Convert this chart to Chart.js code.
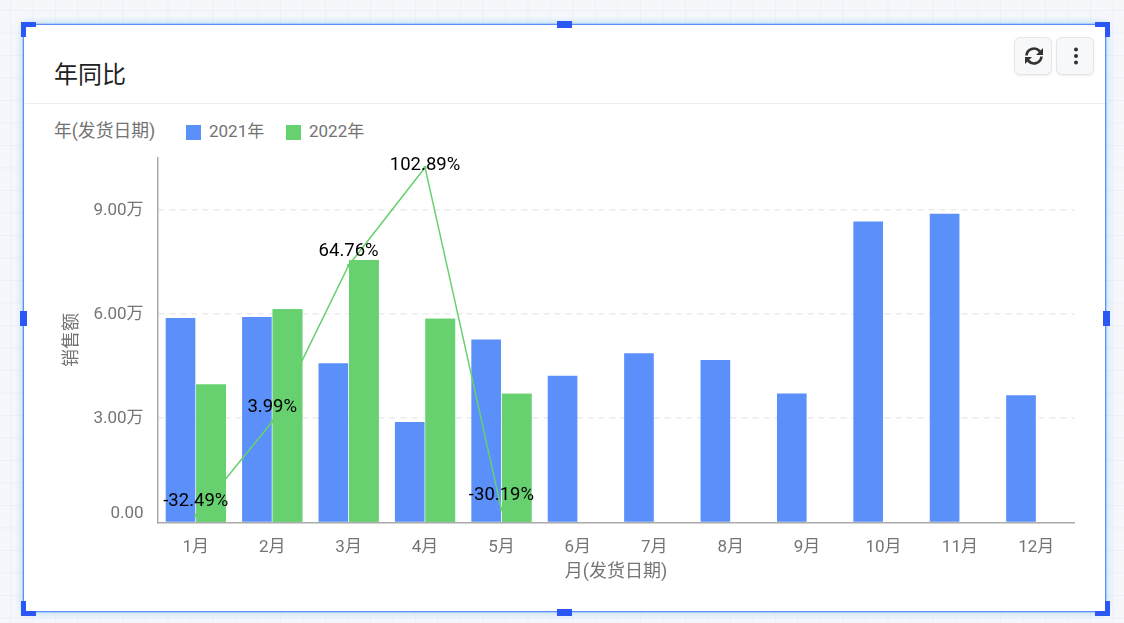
<!DOCTYPE html>
<html lang="zh">
<head>
<meta charset="utf-8">
<title>年同比</title>
<script src="https://cdn.jsdelivr.net/npm/chart.js@4/dist/chart.umd.min.js"></script>
<style>
  html, body { margin: 0; height: 100%; overflow: hidden; }
  body {
    width: 1124px; height: 623px; position: relative;
    font-family: Roboto, "Noto Sans CJK SC", sans-serif;
    background-color: #f6f7fb;
    background-image:
      linear-gradient(#eef0f5 1px, transparent 1px),
      linear-gradient(90deg, #eef0f5 1px, transparent 1px);
    background-size: 22.5px 22.5px;
    background-position: 10px 10px;
  }
  .card {
    position: absolute; left: 23px; top: 24px; width: 1081px; height: 586px;
    background: #fff; border: 1px solid #5b8ff9;
    box-shadow: 0 0 0 .5px #8fb4fa, 0 0 8px rgba(90, 190, 240, .55);
  }
  .title { position: absolute; left: 54px; top: 58px; font-size: 24px; line-height: 34px; color: #222; }
  .sep { position: absolute; left: 25px; top: 103px; width: 1080px; height: 1px; background: #ececec; }
  .legend { position: absolute; top: 119px; left: 54px; height: 24px; line-height: 24px; font-size: 17px; color: #737373; }
  .legend span { position: absolute; white-space: nowrap; top: 0; }
  .legend i { position: absolute; top: 6px; width: 15px; height: 15px; }
  .btn {
    position: absolute; top: 37px; width: 38px; height: 38px; box-sizing: border-box;
    background: #f7f8fa; border: 1px solid #e6e6e6; border-radius: 6px;
    box-shadow: 0 1px 2px rgba(0, 0, 0, .08);
  }
  .btn svg { position: absolute; left: 8.5px; top: 8px; }
  .h { position: absolute; background: #2b57f5; }
  canvas { position: absolute; left: 0; top: 0; }
</style>
</head>
<body>
<div class="card"></div>
<div class="title">年同比</div>
<div class="sep"></div>
<div class="btn" style="left:1014px">
  <svg width="20" height="20" viewBox="0 0 20 20" fill="none" stroke="#333" stroke-width="2.6">
    <path d="M2.5 9.5A7.5 7.5 0 0 1 15.5 5L17 7.5"/>
    <path d="M17.5 10.5A7.5 7.5 0 0 1 4.5 15L3 12.5"/>
    <path d="M19 2V9H12z" fill="#333" stroke="none"/>
    <path d="M1 18V11H8z" fill="#333" stroke="none"/>
  </svg>
</div>
<div class="btn" style="left:1056px">
  <svg width="20" height="20" viewBox="0 0 20 20" fill="#333">
    <circle cx="10" cy="3.5" r="2"/><circle cx="10" cy="10" r="2"/><circle cx="10" cy="16.5" r="2"/>
  </svg>
</div>
<div class="legend">
  <span style="left:0;font-size:17.8px">年(发货日期)</span>
  <i style="left:132px;background:#5b8ff9"></i><span style="left:155px">2021年</span>
  <i style="left:232px;background:#67d06f"></i><span style="left:255px">2022年</span>
</div>
<!-- selection handles -->
<div class="h" style="left:21px;top:22px;width:15px;height:5px"></div>
<div class="h" style="left:21px;top:22px;width:5px;height:15px"></div>
<div class="h" style="left:1095px;top:22px;width:15px;height:5px"></div>
<div class="h" style="left:1105px;top:22px;width:5px;height:15px"></div>
<div class="h" style="left:21px;top:611px;width:15px;height:5px"></div>
<div class="h" style="left:21px;top:601px;width:5px;height:15px"></div>
<div class="h" style="left:1095px;top:611px;width:15px;height:5px"></div>
<div class="h" style="left:1105px;top:601px;width:5px;height:15px"></div>
<div class="h" style="left:557px;top:21px;width:15px;height:7px"></div>
<div class="h" style="left:557px;top:609px;width:15px;height:7px"></div>
<div class="h" style="left:20px;top:311px;width:7px;height:15px"></div>
<div class="h" style="left:1103px;top:311px;width:7px;height:15px"></div>

<canvas id="chart" width="1124" height="623"></canvas>

<script>
const months = ['1月', '2月', '3月', '4月', '5月', '6月', '7月', '8月', '9月', '10月', '11月', '12月'];
const sales2021 = [58800, 59100, 45800, 28900, 52600, 42200, 48700, 46700, 37100, 86600, 88800, 36600];
const sales2022 = [39700, 61300, 75500, 58600, 37000, null, null, null, null, null, null, null];
const yoyRate = [-32.49, 3.99, 64.76, 102.89, -30.19, null, null, null, null, null, null, null];
const salesTicks = [0, 30000, 60000, 90000];

const fontFamily = 'Roboto, "Noto Sans CJK SC", sans-serif';
const tickFont = { family: fontFamily, size: 17 };
const titleFont = { family: fontFamily, size: 18 };
const gray = '#757575';

// the line runs over the 2021 bars but under the 2022 ones,
// then the percentage labels go on top of everything
const rateLabels = {
    id: 'rateLabels',
    afterDatasetsDraw(chart) {
        chart.getDatasetMeta(1).controller.draw();

        const ctx = chart.ctx;
        const meta = chart.getDatasetMeta(2);
        ctx.save();
        ctx.font = '18.5px ' + fontFamily;
        ctx.fillStyle = '#000';
        ctx.textAlign = 'center';
        ctx.textBaseline = 'middle';
        yoyRate.forEach((v, i) => {
            if (v === null) return;
            const p = meta.data[i];
            ctx.fillText(v.toFixed(2) + '%', p.x, Math.max(p.y - 14.5, 165));
        });
        ctx.restore();
    }
};

new Chart(document.getElementById('chart'), {
    data: {
        labels: months,
        datasets: [
            { type: 'bar', label: '2021年', data: sales2021, backgroundColor: '#5b8ff9', order: 1 },
            { type: 'bar', label: '2022年', data: sales2022, backgroundColor: '#67d06f', order: 1 },
            {
                type: 'line', label: '同比', data: yoyRate, yAxisID: 'yRate', order: 0,
                borderColor: '#67d06f', backgroundColor: '#67d06f', borderWidth: 1.5,
                pointRadius: 1, tension: 0
            }
        ]
    },
    options: {
        responsive: false,
        animation: false,
        layout: { padding: { left: 62, right: 49.5, top: 157.4, bottom: 40 } },
        datasets: { bar: { categoryPercentage: 0.8, barPercentage: 0.97 } },
        plugins: { legend: { display: false }, tooltip: { enabled: false } },
        scales: {
            x: {
                grid: { display: false },
                border: { color: '#aaa', width: 1.5 },
                ticks: { color: gray, font: tickFont, padding: 7, maxRotation: 0 },
                title: { display: true, text: '月(发货日期)', color: gray, font: titleFont, padding: 0 },
                afterFit(scale) { scale.height = 60.5; }
            },
            y: {
                min: 0,
                max: 105000,
                afterBuildTicks(scale) { scale.ticks = salesTicks.map(value => ({ value })); },
                ticks: {
                    color: gray,
                    font: tickFont,
                    padding: 14,
                    labelOffset: 1,
                    // the blank second line lifts the zero label off the axis
                    callback: v => v === 0 ? ['0.00', ''] : (v / 10000).toFixed(2) + '万'
                },
                grid: {
                    drawTicks: false,
                    lineWidth: 1.5,
                    color: c => c.tick.value === 0 ? 'transparent' : '#ebebeb'
                },
                border: { color: '#aaa', width: 1.5, dash: [6, 5] },
                title: { display: true, text: '销售额', color: gray, font: titleFont, padding: 0 },
                afterFit(scale) { scale.width = 95.6; }
            },
            // hidden axis for the year-on-year line
            yRate: { display: false, min: -35.2, max: 106.8 }
        }
    },
    plugins: [rateLabels]
});
</script>
</body>
</html>
